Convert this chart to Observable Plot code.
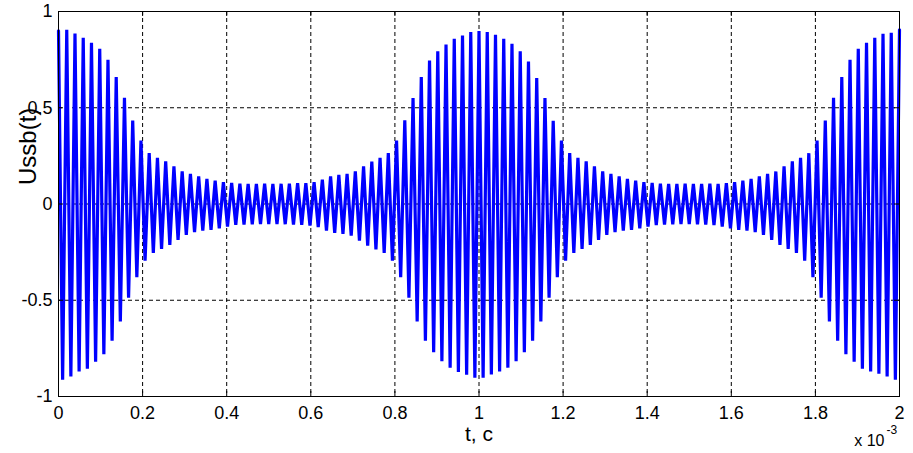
<!DOCTYPE html>
<html>
<head>
<meta charset="utf-8">
<script src="https://cdn.jsdelivr.net/npm/d3@7"></script>
<script src="https://cdn.jsdelivr.net/npm/@observablehq/plot@0.6"></script>
<style>
  html, body { margin: 0; padding: 0; background: #fff; }
  #chart svg { display: block; }
</style>
</head>
<body>
<div id="chart"></div>
<script>
// Carrier period (ms) — one oscillation every ~1/51 ms
const carrierPeriod = 1 / 51;

// Upper extremum of each carrier cycle (k = 0..102)
const peakValues = [
  0.900, 0.905, 0.885, 0.863, 0.837, 0.806, 0.749, 0.659, 0.552, 0.434,
  0.330, 0.264, 0.240, 0.222, 0.196, 0.169, 0.157, 0.144, 0.131, 0.122,
  0.113, 0.110, 0.106, 0.105, 0.104, 0.105, 0.104, 0.105, 0.106, 0.108,
  0.108, 0.113, 0.127, 0.144, 0.152, 0.157, 0.169, 0.196, 0.220, 0.240,
  0.265, 0.330, 0.435, 0.550, 0.660, 0.745, 0.794, 0.829, 0.858, 0.875,
  0.893, 0.898, 0.893, 0.879, 0.858, 0.832, 0.794, 0.740, 0.655, 0.550,
  0.432, 0.330, 0.265, 0.240, 0.222, 0.196, 0.169, 0.157, 0.144, 0.131,
  0.122, 0.113, 0.110, 0.106, 0.105, 0.104, 0.105, 0.104, 0.105, 0.106,
  0.105, 0.108, 0.113, 0.122, 0.131, 0.144, 0.157, 0.169, 0.196, 0.222,
  0.240, 0.264, 0.330, 0.434, 0.552, 0.659, 0.749, 0.806, 0.837, 0.863,
  0.884, 0.890, 0.905
];

// Lower extremum of each carrier cycle (j = 0..101)
const troughValues = [
  -0.913, -0.896, -0.870, -0.856, -0.820, -0.780, -0.710, -0.610, -0.487, -0.380,
  -0.294, -0.254, -0.233, -0.212, -0.186, -0.160, -0.146, -0.138, -0.134, -0.126,
  -0.117, -0.108, -0.107, -0.105, -0.104, -0.104, -0.104, -0.105, -0.107, -0.108,
  -0.112, -0.120, -0.138, -0.150, -0.155, -0.164, -0.190, -0.216, -0.236, -0.254,
  -0.294, -0.380, -0.487, -0.610, -0.710, -0.770, -0.817, -0.851, -0.873, -0.887,
  -0.903, -0.903, -0.885, -0.870, -0.850, -0.817, -0.770, -0.710, -0.610, -0.487,
  -0.380, -0.294, -0.254, -0.233, -0.212, -0.186, -0.160, -0.146, -0.138, -0.134,
  -0.126, -0.117, -0.110, -0.107, -0.105, -0.104, -0.104, -0.105, -0.107, -0.110,
  -0.117, -0.126, -0.134, -0.138, -0.146, -0.160, -0.186, -0.212, -0.233, -0.254,
  -0.294, -0.380, -0.487, -0.610, -0.710, -0.780, -0.820, -0.856, -0.870, -0.882,
  -0.896, -0.913
];

// Axis ticks
const xTicks = [0, 0.2, 0.4, 0.6, 0.8, 1, 1.2, 1.4, 1.6, 1.8, 2];
const yTicks = [-1, -0.5, 0, 0.5, 1];
const xTickLabels = ["0", "0.2", "0.4", "0.6", "0.8", "1", "1.2", "1.4", "1.6", "1.8", "2"];
const yTickLabels = ["-1", "-0.5", "0", "0.5", "1"];

// Build the sampled signal (time in ms, shown ×10^-3 on the axis)
const signal = [];
for (let k = 0; k < peakValues.length; k++) {
  signal.push({t: k * carrierPeriod, u: peakValues[k]});
  if (k < troughValues.length) signal.push({t: (k + 0.5) * carrierPeriod, u: troughValues[k]});
}

const font = "Arial, 'Liberation Sans', sans-serif";
const fmtX = d => xTickLabels[xTicks.findIndex(v => Math.abs(v - d) < 1e-9)];
const fmtY = d => yTickLabels[yTicks.findIndex(v => Math.abs(v - d) < 1e-9)];

const W = 913, H = 453, ML = 58, MR = 14, MT = 11, MB = 57;
const frameW = W - ML - MR, frameH = H - MT - MB, tickLen = 5;

const chart = Plot.plot({
  width: W,
  height: H,
  marginLeft: ML,
  marginRight: MR,
  marginTop: MT,
  marginBottom: MB,
  style: {fontFamily: font, background: "#fff", color: "#000", overflow: "visible"},
  x: {domain: [0, 2], label: null},
  y: {domain: [-1, 1], label: null},
  marks: [
    Plot.ruleX(xTicks.slice(1, -1), {stroke: "#000", strokeDasharray: "4,3", strokeWidth: 1}),
    Plot.ruleY(yTicks.slice(1, -1), {stroke: "#000", strokeDasharray: "4,3", strokeWidth: 1}),
    Plot.line(signal, {x: "t", y: "u", stroke: "#0000ff", strokeWidth: 3.2, strokeLinejoin: "bevel"}),
    // inward tick marks on all four sides
    Plot.tickX(xTicks, {x: d => d, stroke: "#000", insetTop: frameH - tickLen}),
    Plot.tickX(xTicks, {x: d => d, stroke: "#000", insetBottom: frameH - tickLen}),
    Plot.tickY(yTicks, {y: d => d, stroke: "#000", insetRight: frameW - tickLen}),
    Plot.tickY(yTicks, {y: d => d, stroke: "#000", insetLeft: frameW - tickLen}),
    Plot.frame({stroke: "#000", strokeWidth: 1}),
    Plot.axisX({ticks: xTicks, tickFormat: fmtX, tickSize: 0, tickPadding: 10, fontSize: 18, label: null}),
    Plot.axisY({ticks: yTicks, tickFormat: fmtY, tickSize: 0, tickPadding: 6, fontSize: 18, label: null}),
    Plot.text(["Ussb(t)"], {frameAnchor: "left", dx: -30, dy: -19, rotate: -90, fontSize: 24, fill: "#000", style: "letter-spacing:1.5px"}),
    Plot.text(["t, c"], {frameAnchor: "bottom", dy: 44, fontSize: 21, fill: "#000"}),
    Plot.text(["x 10"], {frameAnchor: "bottom-right", dx: -15, dy: 49, textAnchor: "end", fontSize: 16, fill: "#000"}),
    Plot.text(["-3"], {frameAnchor: "bottom-right", dx: -13, dy: 37, textAnchor: "start", fontSize: 12, fill: "#000"})
  ]
});

document.getElementById("chart").append(chart);
</script>
</body>
</html>
